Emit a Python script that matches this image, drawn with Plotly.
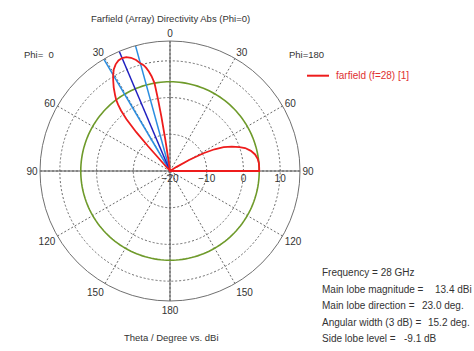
import plotly.graph_objects as go

W, H = 474, 351

# ---------------- data ----------------
theta_phi0 = [0, 5, 8, 8.5, 9, 9.5, 10, 11, 12, 13, 14, 15.4, 17, 19, 21, 23, 25, 27, 29,
              30.6, 32, 34, 36, 37.1, 38, 39, 40, 41, 41.5, 42, 45, 60, 90, 120, 150, 180]
dbi_phi0 = [-20, -20, -17, -11, -5, 0, 4.3, 6.3, 7.7, 8.8, 9.7, 10.4, 11.6, 12.6, 13.2, 13.4,
            13.2, 12.6, 11.6, 10.4, 9.2, 7.4, 5.4, 4.3, 3.0, 1.2, -1.5, -6, -11, -20, -20,
            -20, -20, -20, -20, -20]
theta_phi180 = [0, 30, 55, 58, 60, 62, 64, 66, 68.5, 71, 73, 76, 79, 82, 85, 88, 90, 90,
                120, 150, 180]
dbi_phi180 = [-20, -20, -20, -18, -14, -9.7, -6.5, -4, -1.9, 0, 1.4, 2.7, 3.6, 4.1, 4.3,
              4.3, 4.3, -20, -20, -20, -20]

main_lobe_dir = 23.0
beam_width_3db = 15.2
side_lobe_level_dbi = 4.3
r_min, r_max = -20, 15.4
radial_ticks = [-20, -10, 0, 10]
angle_tickvals = [0, 30, 60, 90, 120, 150, 180, 210, 240, 270, 300, 330]
angle_ticktext = ["0", "30", "60", "90", "120", "150", "180", "150", "120", "90", "60", "30"]

info_labels = ["Frequency = 28 GHz", "Main lobe magnitude =", "Main lobe direction =",
               "Angular width (3 dB) =", "Side lobe level ="]
info_values = ["", "13.4 dBi", "23.0 deg.", "15.2 deg.", "-9.1 dB"]
info_value_x = [0, 433, 420, 426, 402]
info_y = [272.5, 289, 305.5, 322, 338.5]

# ---------------- figure ----------------
FONT = "Liberation Sans"
TXT = "#333333"
RED = "#ee1c1c"
GRID = "#6a6a6a"
FS = 9.5

# curve: Phi=0 side on the left (angle = theta), Phi=180 on the right (angle = 360-theta)
ang = [t for t in reversed(theta_phi0)] + [360 - t for t in theta_phi180]
rr = [v for v in reversed(dbi_phi0)] + list(dbi_phi180)

fig = go.Figure()

# solid main axes
fig.add_trace(go.Scatterpolar(r=[r_max, r_min, r_max], theta=[0, 0, 180], mode="lines",
                              line=dict(color="#555555", width=1), hoverinfo="skip"))
fig.add_trace(go.Scatterpolar(r=[r_max, r_min, r_max], theta=[90, 90, 270], mode="lines",
                              line=dict(color="#555555", width=1), hoverinfo="skip"))

# side lobe level circle
circ = list(range(0, 361, 2))
fig.add_trace(go.Scatterpolar(r=[side_lobe_level_dbi] * len(circ), theta=circ, mode="lines",
                              line=dict(color="#6e9a2a", width=1.6), hoverinfo="skip"))

# beam lines
for a, col in [(main_lobe_dir - beam_width_3db / 2, "#2a8de0"),
               (main_lobe_dir + beam_width_3db / 2, "#2a8de0"),
               (main_lobe_dir, "#2020c0")]:
    fig.add_trace(go.Scatterpolar(r=[r_min, r_max], theta=[a, a], mode="lines",
                                  line=dict(color=col, width=1.5), hoverinfo="skip"))

# farfield curve
fig.add_trace(go.Scatterpolar(r=rr, theta=ang, mode="lines", name="farfield (f=28) [1]",
                              line=dict(color=RED, width=1.8)))

fig.update_layout(
    width=W, height=H,
    margin=dict(l=0, r=0, t=0, b=0),
    paper_bgcolor="white", plot_bgcolor="white",
    showlegend=False,
    font=dict(family=FONT, size=FS, color=TXT),
    polar=dict(
        domain=dict(x=[40 / W, 300 / W], y=[1 - 301 / H, 1 - 41 / H]),
        bgcolor="white",
        angularaxis=dict(rotation=90, direction="counterclockwise",
                         tickvals=angle_tickvals, ticktext=angle_ticktext,
                         showline=True, linecolor="#707070", linewidth=1,
                         gridcolor=GRID, griddash="2px,2px", gridwidth=1,
                         ticks="", tickfont=dict(size=10, color=TXT, family=FONT)),
        radialaxis=dict(range=[r_min, r_max], tickvals=radial_ticks, angle=0,
                        showline=False, ticks="", side="clockwise",
                        gridcolor=GRID, griddash="2px,2px", gridwidth=1,
                        tickfont=dict(size=10, color=TXT, family=FONT)),
    ),
)

def ann(text, px, py, xanchor="left", color=TXT, size=FS):
    fig.add_annotation(text=text, x=px / W, y=1 - py / H, xref="paper", yref="paper",
                       xanchor=xanchor, yanchor="middle", showarrow=False,
                       font=dict(family=FONT, size=size, color=color))

ann("Farfield (Array) Directivity Abs (Phi=0)", 170, 18, "center")
ann("Phi=\u00a0\u00a00", 22, 54)
ann("Phi=180", 287, 54)
ann("Theta / Degree vs. dBi", 171, 337, "center")
for lab, val, vx, vy in zip(info_labels, info_values, info_value_x, info_y):
    ann(lab, 320, vy, size=10)
    if val:
        ann(val, vx, vy, size=10)

# legend entry
fig.add_shape(type="line", x0=307 / W, x1=329 / W, y0=1 - 75.7 / H, y1=1 - 75.7 / H,
              xref="paper", yref="paper", line=dict(color=RED, width=2))
ann("farfield (f=28) [1]", 334, 75.7, color="#e03030", size=10)

fig.write_html("out.html")
